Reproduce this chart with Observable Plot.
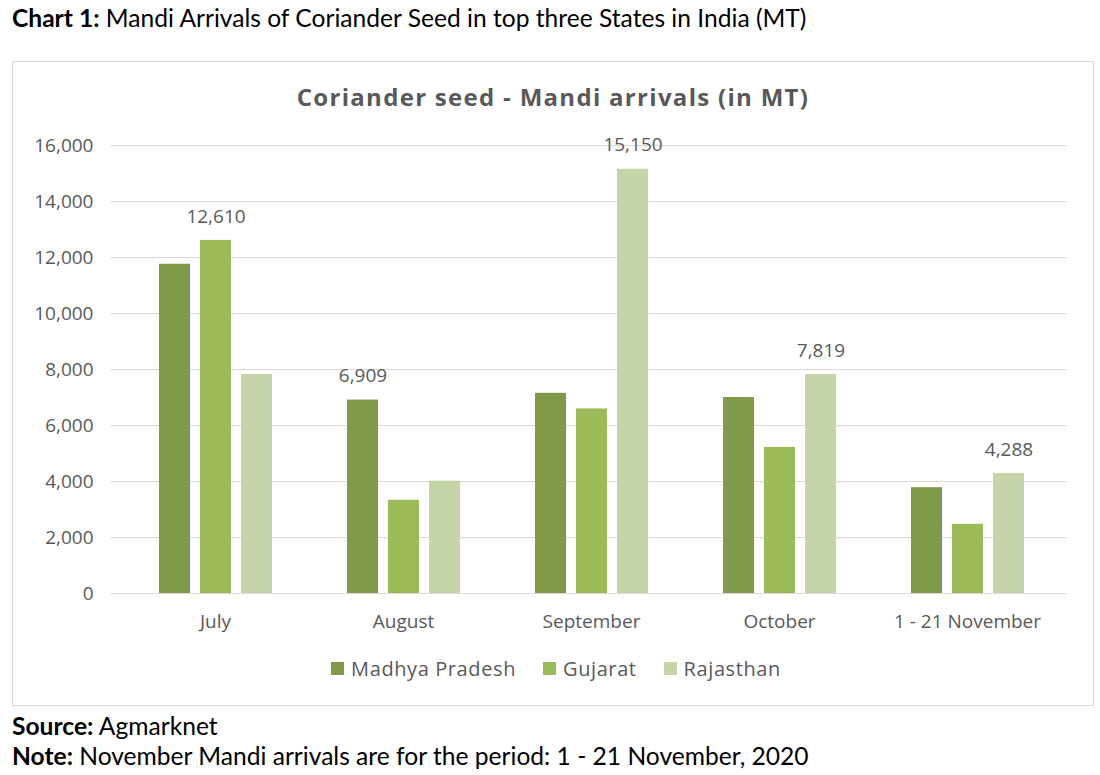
<!DOCTYPE html>
<html>
<head>
<meta charset="utf-8">
<script src="https://cdn.jsdelivr.net/npm/d3@7"></script>
<script src="https://cdn.jsdelivr.net/npm/@observablehq/plot@0.6"></script>
<style>
  body { margin: 0; background: #fff; width: 1100px; height: 775px; position: relative; overflow: hidden; }
  .note { position: absolute; left: 12px; font-family: Lato, "Liberation Sans", sans-serif; font-size: 24.6px; color: #000; white-space: nowrap; }
  .note b { font-weight: 700; }
  #box { position: absolute; left: 12px; top: 61px; width: 1082px; height: 645px; border: 1px solid #d9d9d9; box-sizing: border-box; background: #fff; }
  #chart-title { position: absolute; left: 0; right: 0; top: 18px; text-align: center; font-family: "Open Sans", sans-serif; font-weight: 700; font-size: 24px; letter-spacing: 1.3px; color: #595959; }
  .layer { position: absolute; left: 0; top: 68px; }
  #legend { position: absolute; left: 6px; right: 0; top: 590px; display: flex; justify-content: center; letter-spacing: 0.6px; }
  #legend [class$="-swatch"] { margin-right: 27px; }
  #legend [class$="-swatch"]:last-child { margin-right: 0; }
  #legend svg { margin-right: 7px; }
</style>
</head>
<body>
<div class="note" style="top:3px"><b>Chart 1:</b> Mandi Arrivals of Coriander Seed in top three States in India (MT)</div>
<div id="box">
  <div id="chart-title">Coriander seed - Mandi arrivals (in MT)</div>
  <div id="grid" class="layer"></div>
  <div id="bars" class="layer"></div>
  <div id="legend"></div>
</div>
<div class="note" style="top:711px"><b>Source:</b> Agmarknet</div>
<div class="note" style="top:741px"><b>Note:</b> November Mandi arrivals are for the period: 1 - 21 November, 2020</div>

<script>
// Monthly mandi arrivals of coriander seed (MT)
const months = ["July", "August", "September", "October", "1 - 21 November"];
const states = ["Madhya Pradesh", "Gujarat", "Rajasthan"];
const madhyaPradesh = [11760, 6909, 7150, 7000, 3780];
const gujarat = [12610, 3330, 6590, 5220, 2470];
const rajasthan = [7820, 4010, 15150, 7819, 4288];
const stateColors = ["#7f9a48", "#9bbb59", "#c5d5a8"];
const yTicks = [0, 2000, 4000, 6000, 8000, 10000, 12000, 14000, 16000];
// Bars that carry a value label, one per month
const labelledState = ["Gujarat", "Madhya Pradesh", "Rajasthan", "Rajasthan", "Rajasthan"];

const series = [madhyaPradesh, gujarat, rajasthan];
const data = months.flatMap((month, i) =>
  states.map((state, j) => ({month, state, value: series[j][i], labelled: labelledState[i] === state}))
);

const fmt = d3.format(",");
const font = "'Open Sans', sans-serif";

// Shared frame so both layers use the same y scale
const frame = {
  width: 1080,
  height: 510,
  marginLeft: 97,
  marginRight: 26,
  marginTop: 15,
  marginBottom: 47,
  style: {fontFamily: font, fontSize: "19px", color: "#595959", background: "transparent"}
};
const yScale = {domain: [0, 16000], ticks: yTicks, tickFormat: fmt, tickSize: 0, tickPadding: 17, label: null};

// Back layer: continuous gridlines across all month groups, plus the value axis
const grid = Plot.plot({
  ...frame,
  y: yScale,
  marks: [
    Plot.ruleY(yTicks, {stroke: "#d9d9d9", strokeWidth: 1.2}),
    Plot.axisY({ticks: yTicks, tickFormat: fmt, tickSize: 0, tickPadding: 17, fill: "#595959"})
  ]
});
document.getElementById("grid").appendChild(grid);

// Front layer: grouped bars faceted by month
const bars = Plot.plot({
  ...frame,
  fx: {domain: months, paddingInner: 0.2762, paddingOuter: 0.175, align: 0.54, label: null},
  x: {domain: states, padding: 0.25, axis: null},
  y: {...yScale, axis: null},
  color: {domain: states, range: stateColors},
  marks: [
    Plot.barY(data, {fx: "month", x: "state", y: "value", fill: "state"}),
    Plot.text(data.filter(d => d.labelled), {
      fx: "month", x: "state", y: "value", text: d => fmt(d.value),
      dy: -24, fill: "#595959", fontSize: 19
    }),
    Plot.axisFx({anchor: "bottom", tickSize: 0, tickPadding: 21, label: null, fill: "#595959"})
  ]
});
document.getElementById("bars").appendChild(bars);

const legend = Plot.legend({
  color: {domain: states, range: stateColors},
  legend: "swatches",
  swatchSize: 13,
  style: {fontFamily: font, fontSize: "20px", color: "#595959"}
});
document.getElementById("legend").appendChild(legend);
</script>
</body>
</html>
